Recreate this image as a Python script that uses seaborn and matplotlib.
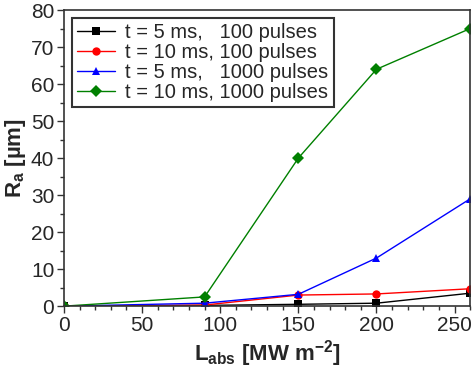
import matplotlib
matplotlib.use("Agg")
import matplotlib.pyplot as plt
import seaborn as sns
import pandas as pd
from matplotlib.ticker import MultipleLocator

x_vals = [0, 90, 150, 200, 260]
black = [0, 0.2, 0.5, 0.8, 3.5]
red = [0, 0.3, 3.0, 3.3, 4.7]
blue = [0, 0.8, 3.2, 13.0, 29.0]
green = [0, 2.5, 40.0, 64.0, 75.0]
labels = ["t = 5 ms,   100 pulses", "t = 10 ms, 100 pulses",
          "t = 5 ms,   1000 pulses", "t = 10 ms, 1000 pulses"]

sns.set_theme(style="ticks")
plt.rcParams['font.family'] = ['Liberation Sans', 'DejaVu Sans']
plt.rcParams['mathtext.fontset'] = 'custom'
plt.rcParams['mathtext.rm'] = 'Liberation Sans'
plt.rcParams['mathtext.bf'] = 'Liberation Sans:bold'
plt.rcParams['mathtext.it'] = 'Liberation Sans:italic'

rows = []
for lab, ys in zip(labels, [black, red, blue, green]):
    for xv, yv in zip(x_vals, ys):
        rows.append({"L": xv, "R": yv, "series": lab})
df = pd.DataFrame(rows)

fig = plt.figure(figsize=(4.74, 3.72), dpi=100)
ax = fig.add_axes([0.135, 0.177, 0.857, 0.796])
palette = {labels[0]: "black", labels[1]: "red", labels[2]: "blue", labels[3]: "green"}
markers = {labels[0]: "s", labels[1]: "o", labels[2]: "^", labels[3]: "D"}
sns.lineplot(data=df, x="L", y="R", hue="series", style="series", palette=palette,
             markers=markers, dashes=False, markersize=6, linewidth=1,
             markeredgewidth=0, ax=ax)

ax.set_xlim(0, 260)
ax.set_ylim(0, 80)
ax.xaxis.set_major_locator(MultipleLocator(50))
ax.xaxis.set_minor_locator(MultipleLocator(10))
ax.yaxis.set_major_locator(MultipleLocator(10))
ax.yaxis.set_minor_locator(MultipleLocator(5))
ax.tick_params(axis='both', which='major', labelsize=15, length=5, width=1, color='#333333', pad=2)
ax.tick_params(axis='both', which='minor', length=3, width=1, color='#333333')
for s in ax.spines.values():
    s.set_color('#333333')
    s.set_linewidth(1.2)
ax.set_xlabel(r"$\mathbf{L_{abs}}$ [MW m$^{\mathbf{-2}}$]", fontsize=16, fontweight='bold', labelpad=2)
ax.set_ylabel(r"$\mathbf{R_a}$ [µm]", fontsize=16, fontweight='bold', labelpad=2)
leg = ax.legend(loc='upper left', fontsize=14.5, frameon=True, fancybox=False,
                edgecolor='black', borderpad=0.25, labelspacing=0.05,
                handlelength=1.9, handletextpad=0.5, borderaxespad=0.4)
leg.get_frame().set_linewidth(1.5)
fig.savefig("out.png", dpi=100)
